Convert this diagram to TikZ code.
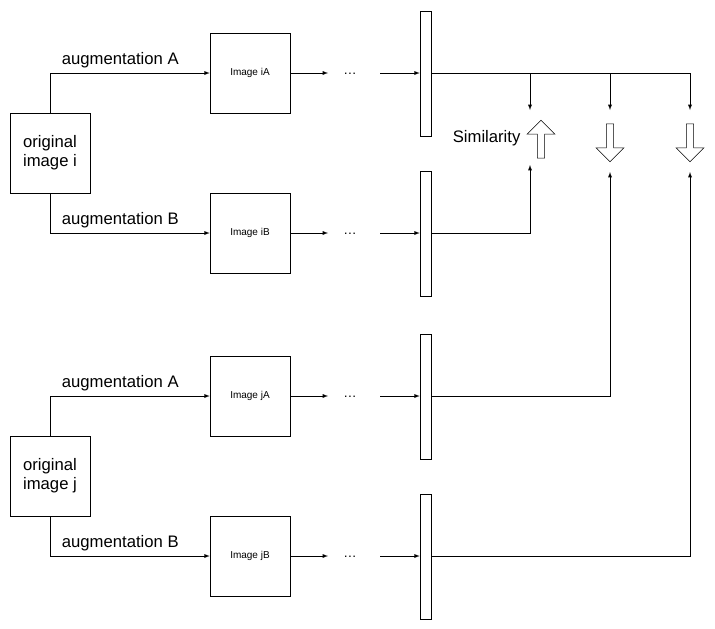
\documentclass[tikz,border=0pt]{standalone}
\usepackage{fontspec}
\setmainfont{Liberation Sans}
\usetikzlibrary{shapes.arrows}

\begin{document}
\begin{tikzpicture}[x=0.75pt,y=-0.75pt,>=latex,
	box/.style={draw,minimum width=60,minimum height=60,inner sep=0pt},
	orig/.style={box,font=\fontsize{12.5}{14.5}\selectfont,align=center},
	img/.style={box,font=\fontsize{7.5}{9}\selectfont},
	bar/.style={draw,minimum width=8.25,minimum height=93.75,inner sep=0pt},
	aug/.style={font=\fontsize{12.5}{14.5}\selectfont,above},
	blk/.style={draw,single arrow,single arrow head extend=3.5pt,minimum height=28.5,minimum width=21,inner sep=1pt}]
	\useasboundingbox (0,0) rectangle (715,629);
	% originals
	\node[orig] (oi) at (50,153) {original\\image i};
	\node[orig] (oj) at (50,476) {original\\image j};
	% views
	\foreach \n/\t/\y in {iA/Image iA/73, iB/Image iB/233, jA/Image jA/396, jB/Image jB/556}{
		\node[img] (\n) at (250,\y) {\t};
		\node (d\n) at (350,\y+1) {\ldots};
		\node[bar] (b\n) at (425.5,\y+0.5) {};
		\draw[->] (\n) -- (328,\y);
		\draw[->] (380,\y) -- (b\n.west |- 0,\y);
	}
	% augmentations
	\draw[->] (oi.north) |- node[aug,pos=0.72] {augmentation A} (iA);
	\draw[->] (oi.south) |- node[aug,pos=0.72] {augmentation B} (iB);
	\draw[->] (oj.north) |- node[aug,pos=0.72] {augmentation A} (jA);
	\draw[->] (oj.south) |- node[aug,pos=0.72] {augmentation B} (jB);
	% similarity arrows
	\node[blk,rotate=90] (s1) at (541,141) {};
	\node[blk,rotate=-90] (s2) at (610,141) {};
	\node[blk,rotate=-90] (s3) at (690,141) {};
	\node[font=\fontsize{12.5}{14.5}\selectfont,anchor=east,inner sep=1pt] (sim) at (522,138) {Similarity};
	\coordinate (t1) at (530,110);
	\coordinate (t2) at (610,110);
	\coordinate (t3) at (690,110);
	\draw (biA.east |- 0,73) -- (690,73);
	\draw[->] (530,73) -- (t1);
	\draw[->] (610,73) -- (t2);
	\draw[->] (690,73) -- (t3);
	\draw[->] (biB.east |- 0,233) -| (530,165);
	\draw[->] (bjA.east |- 0,396) -| (610,172);
	\draw[->] (bjB.east |- 0,556) -| (690,172);
\end{tikzpicture}
\end{document}
